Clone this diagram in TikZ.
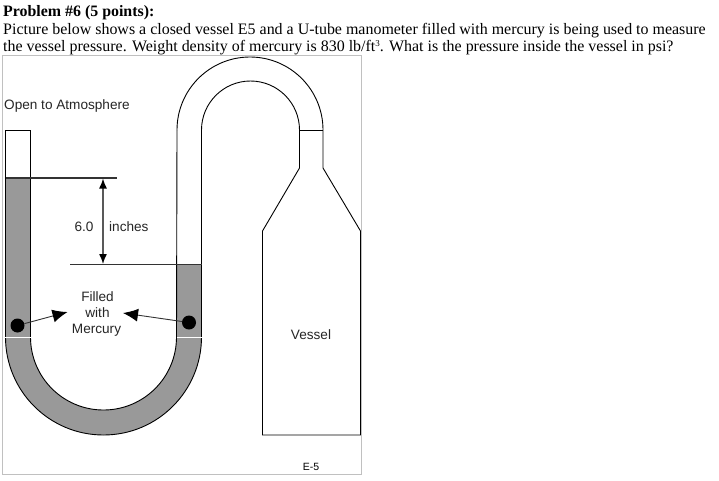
\documentclass[tikz,border=0pt]{standalone}
\usepackage{fontspec}
\setmainfont{Liberation Serif}
\newfontfamily\arialf{Liberation Sans}
\usetikzlibrary{arrows.meta}
\definecolor{hg}{HTML}{999999}
\definecolor{framec}{HTML}{C0C0C0}
\tikzset{
  px/.style={x=1pt,y=-1pt},
  prob/.style={inner sep=0pt,anchor=base west,font=\fontsize{15.95}{18}\selectfont},
  lab/.style={inner sep=0pt,font=\arialf\fontsize{13.6}{16}\selectfont,text=black!85},
  tube/.style={draw=black,line width=0.9pt},
  level/.style={draw=black!80,line width=1.4pt},
  dimarrow/.style={draw=black!65,line width=1.4pt,{Latex[length=10pt,width=8pt,black]}-{Latex[length=10pt,width=8pt,black]}},
  callout/.style={draw=black!80,line width=0.9pt,-{Latex[length=15pt,width=13pt,black]}},
  dotn/.style={circle,fill=black,inner sep=0pt,minimum size=14pt}
}
\begin{document}
\begin{tikzpicture}[px]
\useasboundingbox (0,0) rectangle (719,480);
\fill[white] (0,0) rectangle (719,480);
\node[prob,font=\bfseries\fontsize{15.9}{18}\selectfont] (title) at (3,16) {Problem \#6 (5 points):};
\node[prob] (l1) at (3,34) {Picture below shows a closed vessel E5 and a U-tube manometer filled with mercury is being used to measure};
\node[prob] (l2) at (3,51) {the vessel pressure. Weight density of mercury is 830 lb/ft\raisebox{5pt}{\fontsize{9}{9}\selectfont 3}. What is the pressure inside the vessel in psi?};
\draw[framec,line width=1pt] (2.5,55.5) rectangle (361.5,474.5);
% mercury
\fill[hg] (5.5,178) -- (30.5,178) -- (30.5,337) arc[start angle=180,end angle=0,radius=73] -- (177,264) -- (201.5,264) -- (201.5,337) arc[start angle=0,end angle=180,radius=98] -- cycle;
% left and bottom of manometer
\draw[tube] (5.5,337) -- (5.5,130) -- (30.5,130) -- (30.5,337);
\draw[tube] (5.5,337) arc[start angle=180,end angle=0,radius=98] -- (201.5,130);
\draw[tube] (30.5,337) arc[start angle=180,end angle=0,radius=73] -- (177,130);
% white joints
\draw[white,line width=0.9pt] (5,337) -- (31,337);
\draw[white,line width=0.9pt] (176.5,337) -- (202,337);
% top arch
\draw[tube] (177,130) arc[start angle=180,end angle=360,radius=73];
\draw[tube] (201.5,130) arc[start angle=180,end angle=360,radius=49];
\draw[tube] (299.5,130) -- (323,130);
% vessel
\draw[tube] (299.5,130) -- (299.5,168) -- (262.5,231) -- (262.5,435) -- (360.5,435) -- (360.5,231) -- (323,168) -- (323,130);
% levels
\coordinate (topL) at (5.5,178); \coordinate (topR) at (117,178);
\coordinate (botL) at (70,264.5); \coordinate (botR) at (201.5,264.5);
\coordinate (dimT) at (103,178.5); \coordinate (dimB) at (103,264);
\draw[level] (topL) -- (topR);
\draw[level] (botL) -- (botR);
\draw[dimarrow] (dimT) -- (dimB);
% labels
\node[lab,anchor=base west] (open) at (4,109) {Open to Atmosphere};
\node[lab,anchor=base] (six) at (84,231) {6.0};
\node[lab,anchor=base west] (inch) at (109,231) {inches};
\node[lab,anchor=base] (f1) at (97.5,301) {Filled};
\node[lab,anchor=base] (f2) at (97.5,317) {with};
\node[lab,anchor=base] (f3) at (96.5,333) {Mercury};
\node[lab,anchor=base] (ves) at (311,339) {Vessel};
\node[inner sep=0pt,anchor=base,font=\arialf\fontsize{10.5}{12}\selectfont] (e5) at (311,470) {E-5};
% dots and callouts
\node[dotn] (dl) at (17.5,325.5) {};
\node[dotn] (dr) at (189,322.5) {};
\coordinate (al) at (67.5,312);
\coordinate (ar) at (123,313);
\draw[callout] (dl) -- (al);
\draw[callout] (dr) -- (ar);
\end{tikzpicture}
\end{document}
